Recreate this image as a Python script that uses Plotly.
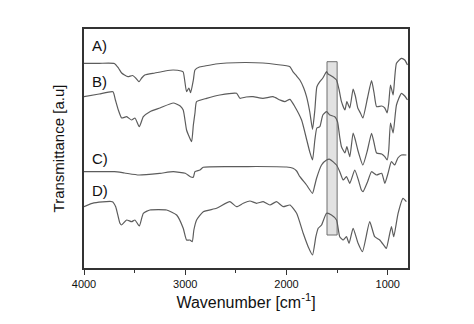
import plotly.graph_objects as go

# FTIR spectra (transmittance, arbitrary units, already stacked with offsets)
A_wn = [4000, 3850, 3700, 3660, 3628, 3600, 3566, 3520, 3490, 3457,
        3430, 3400, 3300, 3200, 3120, 3040, 3020, 2987, 2964, 2947,
        2920, 2904, 2860, 2805, 2700, 2590, 2400, 2233, 2100, 1966,
        1937, 1900, 1868, 1830, 1802, 1770, 1743, 1720, 1700, 1671,
        1641, 1604, 1590, 1572, 1540, 1506, 1480, 1457, 1423, 1404,
        1375, 1342, 1320, 1296, 1270, 1246, 1200, 1160, 1135, 1110,
        1060, 1029, 1006, 990, 973, 947, 914, 865, 832, 805]
A_T = [204.7, 204.7, 204.5, 200, 195, 193, 191.3, 192.5, 190, 186.3,
       190, 193, 195, 197, 198, 197, 196, 176.3, 180, 175.3,
       188, 198, 201, 202, 204, 205, 205.5, 205, 203.5, 201.3,
       196.3, 192, 188, 180, 171.3, 156, 138.7, 158, 181.3, 186.3,
       190, 196.3, 194, 193, 191, 188, 178, 166.3, 158, 166.3,
       160, 179, 172, 160, 155, 150, 170, 187.3, 175, 161.3,
       162, 160, 155, 165, 183, 173, 204.7, 209.7, 208, 203]

B_wn = [4000, 3850, 3714, 3690, 3661, 3628, 3579, 3530, 3497, 3454,
        3414, 3349, 3250, 3118, 3050, 3020, 2987, 2961, 2937, 2920,
        2904, 2888, 2789, 2658, 2493, 2460, 2400, 2331, 2233, 2134,
        2065, 2016, 1966, 1917, 1851, 1800, 1770, 1743, 1720, 1700,
        1671, 1641, 1604, 1572, 1523, 1496, 1475, 1457, 1423, 1404,
        1375, 1342, 1320, 1296, 1246, 1200, 1160, 1135, 1110, 1060,
        1029, 1006, 990, 973, 947, 914, 865, 832, 805]
B_T = [171.3, 174, 176.3, 168, 158, 150, 151.3, 148, 150, 141.3,
       151.3, 156.3, 160, 165, 162, 158, 138, 131.3, 126.3, 143,
       155, 166.3, 169.7, 173, 174.7, 169.7, 171, 171.3, 169.7, 171.3,
       168, 166.3, 168.7, 161.3, 148, 128, 116, 108, 128, 140,
       141.3, 153, 156.3, 153, 151.3, 146.3, 131.3, 121.3, 115, 121.3,
       111.3, 135, 128, 118, 103, 118, 134.7, 125, 115, 114,
       111.3, 108, 118, 145, 135, 163, 174.7, 172, 168]

C_wn = [4000, 3700, 3600, 3457, 3250, 3118, 3000, 2950, 2921, 2904,
        2855, 2822, 2460, 2300, 2000, 1936, 1900, 1868, 1802, 1743,
        1720, 1703, 1654, 1604, 1572, 1506, 1474, 1440, 1408, 1375,
        1326, 1290, 1260, 1244, 1200, 1160, 1110, 1060, 1029, 997,
        964, 931, 900, 865, 816]
C_T = [96.3, 96.3, 95, 93, 94.7, 96.3, 94.7, 91.3, 90.7, 96.3,
       98, 100.7, 101.3, 101.5, 101, 99.7, 97, 91.3, 83, 74.7,
       83, 89.7, 103, 108, 108.7, 103, 96.3, 88, 91.3, 84.7,
       98, 88, 78, 76.3, 86, 96.3, 93, 94.7, 84.7, 94.7,
       106.3, 103, 110, 113, 113]

D_wn = [4000, 3918, 3720, 3687, 3645, 3628, 3579, 3530, 3497, 3454,
        3414, 3349, 3184, 3085, 3020, 2987, 2954, 2931, 2915, 2888,
        2822, 2691, 2559, 2493, 2427, 2362, 2296, 2230, 2164, 2099,
        2033, 1966, 1900, 1835, 1786, 1743, 1710, 1687, 1654, 1604,
        1556, 1506, 1474, 1441, 1408, 1382, 1342, 1293, 1250, 1178,
        1129, 1079, 1029, 1013, 964, 941, 898, 849, 816]
D_T = [61.3, 64.7, 66.3, 61.3, 44.7, 43, 48, 46.3, 48, 42,
       54.7, 58, 58, 53, 39.7, 28, 28, 26.3, 38, 48,
       56.3, 59.7, 66.3, 61.3, 64.7, 67, 64.7, 66.3, 63, 66.3,
       61.3, 63, 54.7, 34.7, 21.3, 13, 31.3, 39.7, 43, 54.7,
       53, 48, 31.3, 28, 31.3, 24.7, 39.7, 24.7, 16.3, 46.3,
       31.3, 28, 21.3, 19.7, 41.3, 31.3, 54.7, 69.7, 66.3]

labels = ["A)", "B)", "C)", "D)"]
label_T = [223, 187, 110, 78]

# highlighted band
band_wn = [1600, 1500]
band_T = [33, 206.3]

x_ticks = [4000, 3000, 2000, 1000]
x_minor = [3500, 2500, 1500]

FONT = "Arial, Liberation Sans, sans-serif"
LINE = "#5c5c5c"

fig = go.Figure()

for wn, t in [(A_wn, A_T), (B_wn, B_T), (C_wn, C_T), (D_wn, D_T)]:
    fig.add_trace(go.Scatter(
        x=wn, y=t, mode="lines",
        line=dict(color=LINE, width=1.2, shape="spline", smoothing=0.5),
        showlegend=False, hoverinfo="skip",
    ))

fig.add_shape(
    type="rect", xref="x", yref="y",
    x0=band_wn[0], x1=band_wn[1], y0=band_T[0], y1=band_T[1],
    fillcolor="#e2e2e2", line=dict(color="#6f6f6f", width=1), layer="below",
)

for lab, ty in zip(labels, label_T):
    fig.add_annotation(
        x=0.018, xref="paper", y=ty, yref="y", text=lab, showarrow=False,
        xanchor="left", yanchor="middle",
        font=dict(family=FONT, size=15, color="#111111"),
    )

fig.update_layout(
    width=474, height=324,
    margin=dict(l=84, r=66, t=29, b=56),
    paper_bgcolor="white", plot_bgcolor="white",
    font=dict(family=FONT, color="#111111"),
)

fig.update_xaxes(
    range=[4000, 800], tickvals=x_ticks, ticktext=[str(v) for v in x_ticks],
    ticks="outside", ticklen=5, tickwidth=1, tickcolor="#333333",
    minor=dict(tickvals=x_minor, ticks="outside", ticklen=3, tickcolor="#333333"),
    tickfont=dict(family=FONT, size=11, color="#111111"),
    showline=True, mirror=True, linecolor="#333333", linewidth=1.5,
    showgrid=False, zeroline=False,
    title=dict(text="Wavenumber [cm<sup>-1</sup>]", standoff=8,
               font=dict(family=FONT, size=16, color="#111111")),
)
fig.update_yaxes(
    range=[0, 239], showticklabels=False, ticks="",
    showline=True, mirror=True, linecolor="#333333", linewidth=1.5,
    showgrid=False, zeroline=False,
    title=dict(text="Transmittance [a.u]", standoff=14,
               font=dict(family=FONT, size=15, color="#111111")),
)

fig.write_html("out.html")
